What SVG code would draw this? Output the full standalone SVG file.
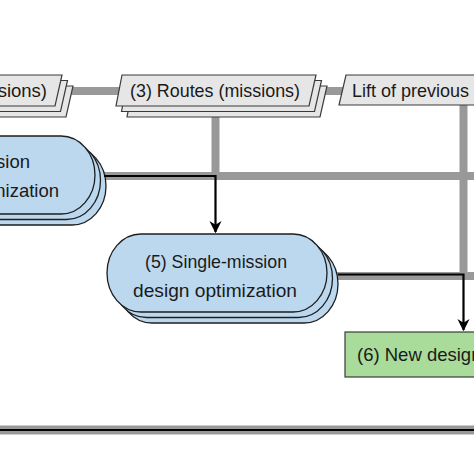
<svg xmlns="http://www.w3.org/2000/svg" xmlns:xlink="http://www.w3.org/1999/xlink" width="474" height="474" viewBox="0 0 474 474">
<style>
.bg{fill:#ffffff}
.grey{stroke:#999999;stroke-width:8;fill:none}
.flow{stroke:#000000;stroke-width:2.2;fill:none}
.para{fill:#e6e6e6;stroke:#3a3a3a;stroke-width:1.2}
.opt{fill:#bcd8ef;stroke:#1e1e1e;stroke-width:1.3}
.out{fill:#a9dc9a;stroke:#3a3a3a;stroke-width:1.2}
text{font-family:"Liberation Sans",Arial,sans-serif;font-size:18.5px;fill:#1a1a1a}
</style>
<defs>
<marker id="arr" viewBox="0 0 10 10" refX="9" refY="5" markerWidth="5.5" markerHeight="5.5" orient="auto" markerUnits="strokeWidth">
<path d="M0,0 L10,5 L0,10 L3,5 Z" fill="#000"/>
</marker>
<path id="p2" d="M-100,75 H62 L55,106 H-100 Z"/>
<path id="p3" d="M122,75 H316 L309,106 H116 Z"/>
<path id="n4" d="M-200,136 H61 A34 39 0 0 1 61 214 H-200 Z"/>
<path id="n5" d="M141,234 H293 A34 39 0 0 1 293 312 H141 A34 39 0 0 1 141 234 Z"/>
</defs>
<rect class="bg" x="0" y="0" width="474" height="474"/>

<g id="connectors-back">
<path class="grey" d="M60,91 H125"/>
<path class="grey" d="M315,91 H345"/>
<path class="grey" d="M215.5,100 V176"/>
<path class="grey" d="M100,176 H474"/>
<path class="grey" d="M463.5,100 V276"/>
<path class="grey" d="M330,276 H474"/>
<path class="grey" style="stroke-width:9" d="M0,430 H474"/>
</g>

<g id="node-2">
<use xlink:href="#p2" class="para" transform="translate(11,11)"/>
<use xlink:href="#p2" class="para" transform="translate(5.5,5.5)"/>
<use xlink:href="#p2" class="para"/>
<text x="47" y="97" text-anchor="end">ssions)</text>
</g>

<g id="node-3">
<use xlink:href="#p3" class="para" transform="translate(11,11)"/>
<use xlink:href="#p3" class="para" transform="translate(5.5,5.5)"/>
<use xlink:href="#p3" class="para"/>
<text x="215" y="97" text-anchor="middle" textLength="170" lengthAdjust="spacingAndGlyphs">(3) Routes (missions)</text>
</g>

<g id="node-lift">
<path class="para" d="M346,75 H490 V105 H339 Z"/>
<text x="352" y="97" textLength="117" lengthAdjust="spacingAndGlyphs">Lift of previous</text>
</g>

<g id="node-4">
<use xlink:href="#n4" class="opt" transform="translate(11,11)"/>
<use xlink:href="#n4" class="opt" transform="translate(5.5,5.5)"/>
<use xlink:href="#n4" class="opt"/>
<text x="30" y="168" text-anchor="end">sion</text>
<text x="59" y="197" text-anchor="end">nization</text>
</g>

<g id="node-5">
<use xlink:href="#n5" class="opt" transform="translate(11,11)"/>
<use xlink:href="#n5" class="opt" transform="translate(5.5,5.5)"/>
<use xlink:href="#n5" class="opt"/>
<text x="216" y="268" text-anchor="middle" textLength="142" lengthAdjust="spacingAndGlyphs">(5) Single-mission</text>
<text x="215" y="297" text-anchor="middle" textLength="164" lengthAdjust="spacingAndGlyphs">design optimization</text>
</g>

<g id="node-6">
<rect class="out" x="345" y="332" width="140" height="45"/>
<text x="357" y="361">(6) New design</text>
</g>

<g id="connectors">
<path class="flow" d="M104,176 H215.5 V232" marker-end="url(#arr)"/>
<path class="flow" d="M338,274.5 H463.5 V330" marker-end="url(#arr)"/>
<path d="M0,430 H474" stroke="#000" stroke-width="2.2" fill="none"/>
</g>
</svg>
